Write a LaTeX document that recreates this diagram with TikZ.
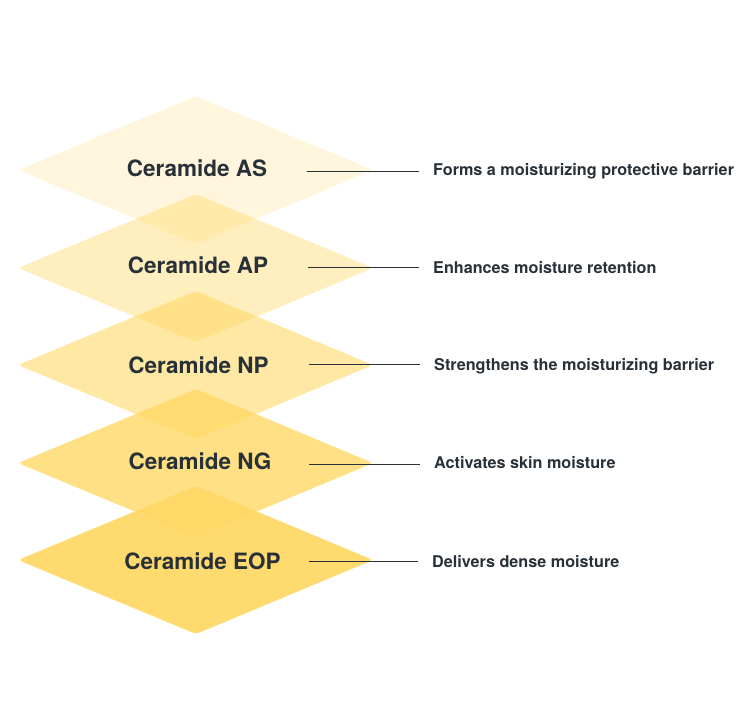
\documentclass[tikz,border=0pt]{standalone}
\usepackage{fontspec}
\setmainfont{TeX Gyre Heros}
\definecolor{ink}{HTML}{283038}
\definecolor{gold}{HTML}{FFD866}
\begin{document}
\begin{tikzpicture}[x=1pt,y=-1pt,
  layer/.style={fill=gold, fill opacity=#1, rounded corners=4pt},
  cername/.style={font=\bfseries\fontsize{22.5}{26}\selectfont, text=ink, inner sep=0pt},
  desc/.style={font=\bfseries\fontsize{16.2}{19}\selectfont, text=ink, anchor=base west, inner sep=0pt, inner xsep=14pt},
  lead/.style={draw=ink, line width=0.9pt}]
\useasboundingbox (0,0) rectangle (750,724);
% layered diamonds
\foreach \y/\o in {170/0.22,268/0.42,365/0.6,463/0.8,560/0.95}
  \fill[layer=\o] (196,\y-74) -- (373,\y) -- (196,\y+74) -- (18,\y) -- cycle;
% names
\node[cername] (n1) at (197,168.5) {Ceramide AS};
\node[cername] (n2) at (198,265) {Ceramide AP};
\node[cername] (n3) at (198.5,365) {Ceramide NP};
\node[cername] (n4) at (200,461.5) {Ceramide NG};
\node[cername] (n5) at (202.5,561) {Ceramide EOP};
% descriptions
\node[desc] (d1) at (419,175) {Forms a moisturizing protective barrier};
\node[desc] (d2) at (419,273) {Enhances moisture retention};
\node[desc] (d3) at (420,370) {Strengthens the moisturizing barrier};
\node[desc] (d4) at (420,468.3) {Activates skin moisture};
\node[desc] (d5) at (418,567.5) {Delivers dense moisture};
% leader lines
\coordinate (c1) at (307,171.5);
\coordinate (c2) at (308,267);
\coordinate (c3) at (309,364.3);
\coordinate (c4) at (309,464.3);
\coordinate (c5) at (309,561);
\foreach \i in {1,...,5}
  \draw[lead] (c\i) -- (c\i -| d\i.west);
\end{tikzpicture}
\end{document}
